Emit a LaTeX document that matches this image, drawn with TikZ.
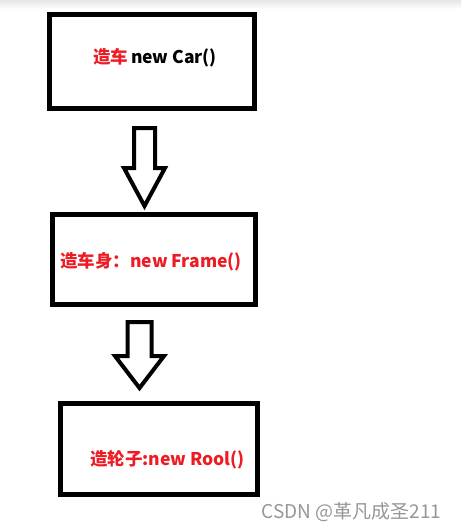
\documentclass[tikz,border=0pt]{standalone}
\usepackage{fontspec}
\setmainfont{Noto Sans CJK SC}
\usetikzlibrary{shapes,arrows}
\definecolor{paintred}{RGB}{237,28,36}
\definecolor{markgray}{RGB}{150,150,150}
\tikzstyle{step box} = [draw=black, line width=5pt, rectangle, minimum width=205pt, minimum height=94pt, inner sep=0pt]
\tikzstyle{step text} = [font=\bfseries\fontsize{17.5}{20}\selectfont, text=paintred, inner sep=0pt]
\tikzstyle{big arrow} = [draw=black, line width=4pt, fill=white, line join=miter]

\begin{document}
\begin{tikzpicture}[x=1pt,y=-1pt]
                        \useasboundingbox (0,0) rectangle (461,532);
                        \shade[top color=black!10, bottom color=white] (0,0) rectangle (461,9);
                        % the three steps
                        \node[step box] (car) at (152,61.5) {};
                        \node[step text] (car text) at (155,58) {造车\,\textcolor{black}{new Car()}};
                        \node[step box, minimum width=203pt, minimum height=90pt] (frame) at (154,259.5) {};
                        \node[step text] (frame text) at (151,262) {造车身：new Frame()};
                        \node[step box, minimum width=197pt, minimum height=91pt] (rool) at (159,449) {};
                        \node[step text] (rool text) at (167.5,460) {造轮子:new Rool()};
                        % block arrows between them
                        \coordinate (down1) at (144.5,128);
                        \draw[big arrow] (down1) ++(-10.5,0) -- ++(0,40) -- ++(-10,0) -- ++(20.5,38)
                            -- ++(20.5,-38) -- ++(-10,0) -- ++(0,-40) -- cycle;
                        \coordinate (down2) at (139.5,322);
                        \draw[big arrow] (down2) ++(-12,0) -- ++(0,34) -- ++(-12.5,0) -- ++(24.5,32)
                            -- ++(24.5,-32) -- ++(-12.5,0) -- ++(0,-34) -- cycle;
                        \node[font=\fontsize{19}{22}\selectfont, text=markgray, inner sep=0pt] (mark) at (351.5,512) {CSDN @革凡成圣211};
                    \end{tikzpicture}
\end{document}
